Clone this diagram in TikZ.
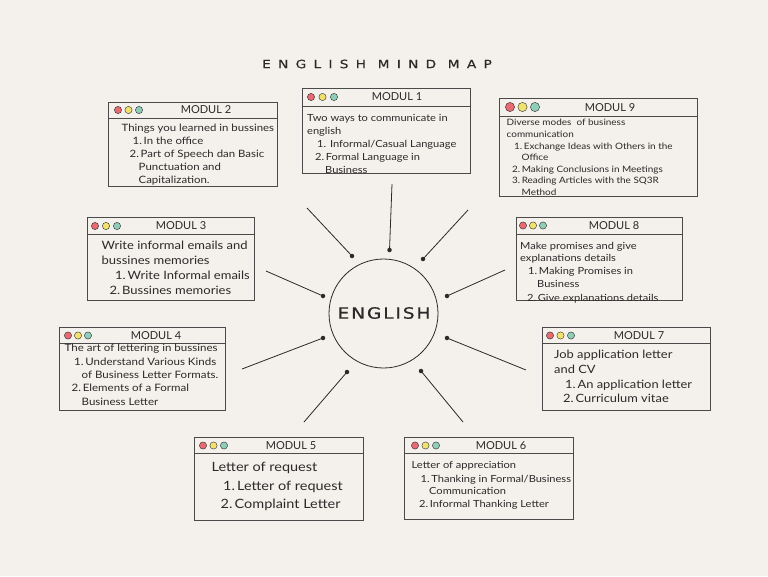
\documentclass[tikz,border=0pt]{standalone}
\usepackage{fontspec}
\setmainfont{Lato}[FakeStretch=1.13]
\newfontfamily\hdrfont{Lato}
\newfontfamily\titlefont[FakeStretch=1.2,LetterSpace=64,FakeBold=0.4]{DejaVu Sans}
\newfontfamily\centerfont[FakeStretch=1.2,LetterSpace=12,FakeBold=0.5]{DejaVu Sans}
\definecolor{bg}{HTML}{F4F0EB}
\definecolor{ink}{HTML}{2A2A2A}
\definecolor{boxline}{HTML}{4A4A4A}
\definecolor{dotred}{HTML}{E86A72}
\definecolor{dotyel}{HTML}{F1E16F}
\definecolor{dotteal}{HTML}{8ECDB8}
\newcommand{\fs}[1]{\fontsize{#1}{#1}\selectfont}
\tikzset{
  modbox/.style={draw=boxline, line width=0.9pt},
  hdrline/.style={draw=boxline, line width=0.9pt},
  wdot/.style={draw=ink, line width=0.4pt},
  ln/.style={anchor=base west, inner sep=0pt, text=ink},
  hdr/.style={inner sep=0pt, text=ink, font=\hdrfont\fs{11}},
  spoke/.style={draw=ink, line width=0.8pt},
  hub/.style={circle, fill=ink, inner sep=0pt, minimum size=4.5pt},
}
\begin{document}
\begin{tikzpicture}[x=1pt,y=-1pt]
\fill[bg] (0,0) rectangle (768,576);
\useasboundingbox (0,0) rectangle (768,576);

% title
\node[inner sep=0pt, text=ink] (title) at (377,64) {\titlefont\fontsize{11.4}{12}\selectfont ENGLISH MIND MAP};

% center
\node[circle, draw=ink, line width=0.8pt, minimum size=109pt, inner sep=0pt] (eng) at (383.5,313.5) {};
\node[inner sep=0pt, text=ink] (engt) at (384,313) {\centerfont\fontsize{15.5}{16}\selectfont ENGLISH};

\newcommand{\modbox}[6]{%
  \draw[modbox] (#2,#3) rectangle (#4,#5);
  \draw[hdrline] (#2,#6) -- (#4,#6);
  \coordinate (#1nw) at (#2,#3);
}
% ---- MODUL 1
\modbox{mA}{302}{88}{470}{173}{106}
\foreach \xx/\cc in {311/dotred,322.5/dotyel,334/dotteal}{\filldraw[wdot, fill=\cc] (\xx,97) circle (3.6);}
\node[hdr] (m1h) at (397,97) {MODUL 1};
\node[ln, font=\fs{9.8}] (m1a) at (307,121) {Two ways to communicate in};
\node[ln, font=\fs{9.8}] (m1b) at (307,134) {english};
\node[ln, font=\fs{9.8}] (m1c) at (317,147) {1. Informal/Casual Language};
\node[ln, font=\fs{9.8}] (m1d) at (315,160) {2.\,Formal Language in};
\node[ln, font=\fs{9.8}] (m1e) at (325,173) {Business};

% ---- MODUL 2
\modbox{mB}{108}{102}{277}{186}{118}
\foreach \xx/\cc in {118/dotred,128.5/dotyel,139/dotteal}{\filldraw[wdot, fill=\cc] (\xx,110) circle (3.6);}
\node[hdr] (m2h) at (206,110) {MODUL 2};
\node[ln, font=\fs{10.1}] (m2a) at (121.5,131) {Things you learned in bussines};
\node[ln, font=\fs{10.1}] (m2b) at (132.5,144.5) {1.\,In the office};
\node[ln, font=\fs{10.1}] (m2c) at (129.5,157.5) {2.\,Part of Speech dan Basic};
\node[ln, font=\fs{10.1}] (m2d) at (138.5,170.5) {Punctuation and};
\node[ln, font=\fs{10.1}] (m2e) at (138.5,183.5) {Capitalization.};

% ---- MODUL 9
\modbox{mC}{499}{98}{697}{196}{116}
\foreach \xx/\cc in {510/dotred,522.5/dotyel,535/dotteal}{\filldraw[wdot, fill=\cc] (\xx,107) circle (4.6);}
\node[hdr] (m9h) at (610,108) {MODUL 9};
\node[ln, font=\fs{8.8}] (m9a) at (506.5,125) {Diverse modes\ \ of business};
\node[ln, font=\fs{8.8}] (m9b) at (506.5,137) {communication};
\node[ln, font=\fs{8.8}] (m9c) at (514,149) {1.\,Exchange Ideas with Others in the};
\node[ln, font=\fs{8.8}] (m9d) at (521.5,160.5) {Office};
\node[ln, font=\fs{8.8}] (m9e) at (512,172) {2.\,Making Conclusions in Meetings};
\node[ln, font=\fs{8.8}] (m9f) at (512,183.5) {3.\,Reading Articles with the SQ3R};
\node[ln, font=\fs{8.8}] (m9g) at (521.5,195) {Method};

% ---- MODUL 3
\modbox{mD}{87}{217}{254}{300}{234}
\foreach \xx/\cc in {95/dotred,106/dotyel,117/dotteal}{\filldraw[wdot, fill=\cc] (\xx,226) circle (3.6);}
\node[hdr] (m3h) at (181,226) {MODUL 3};
\node[ln, font=\fs{11.5}] (m3a) at (101.5,249) {Write informal emails and};
\node[ln, font=\fs{11.5}] (m3b) at (101.5,264) {bussines memories};
\node[ln, font=\fs{11.5}] (m3c) at (115,279) {1.\,Write Informal emails};
\node[ln, font=\fs{11.5}] (m3d) at (109.5,294) {2.\,Bussines memories};

% ---- MODUL 8
\modbox{mE}{516}{217}{682}{300}{234}
\foreach \xx/\cc in {523/dotred,533/dotyel,543/dotteal}{\filldraw[wdot, fill=\cc] (\xx,225.5) circle (3.6);}
\node[hdr] (m8h) at (614,226) {MODUL 8};
\node[ln, font=\fs{9.8}] (m8a) at (520,249) {Make promises and give};
\node[ln, font=\fs{9.8}] (m8b) at (520,261.5) {explanations details};
\node[ln, font=\fs{9.8}] (m8c) at (528,274.5) {1.\,Making Promises in};
\node[ln, font=\fs{9.8}] (m8d) at (537,287.5) {Business};
\node[ln, font=\fs{9.8}] (m8e) at (527,301) {2.\,Give explanations details};

% ---- MODUL 4
\modbox{mF}{59}{327}{225}{410}{343}
\foreach \xx/\cc in {68/dotred,78/dotyel,88/dotteal}{\filldraw[wdot, fill=\cc] (\xx,335.5) circle (3.6);}
\node[hdr] (m4h) at (156,336) {MODUL 4};
\node[ln, font=\fs{10.2}] (m4a) at (64.5,351.5) {The art of lettering in bussines};
\node[ln, font=\fs{10.2}] (m4b) at (74,365) {1.\,Understand Various Kinds};
\node[ln, font=\fs{10.2}] (m4c) at (81.5,378) {of Business Letter Formats.};
\node[ln, font=\fs{10.2}] (m4d) at (71.5,391.5) {2.\,Elements of a Formal};
\node[ln, font=\fs{10.2}] (m4e) at (81.5,405) {Business Letter};

% ---- MODUL 7
\modbox{mG}{542}{327}{710}{410}{343}
\foreach \xx/\cc in {550/dotred,560.5/dotyel,571/dotteal}{\filldraw[wdot, fill=\cc] (\xx,335.5) circle (3.6);}
\node[hdr] (m7h) at (639,336) {MODUL 7};
\node[ln, font=\fs{11.4}] (m7a) at (554,358) {Job application letter};
\node[ln, font=\fs{11.4}] (m7b) at (554,373) {and CV};
\node[ln, font=\fs{11.4}] (m7c) at (565,388) {1.\,An application letter};
\node[ln, font=\fs{11.4}] (m7d) at (563,402.5) {2.\,Curriculum vitae};

% ---- MODUL 5
\modbox{mH}{194}{437}{363}{520}{453}
\foreach \xx/\cc in {203/dotred,213.5/dotyel,224/dotteal}{\filldraw[wdot, fill=\cc] (\xx,445.5) circle (3.6);}
\node[hdr] (m5h) at (291,446) {MODUL 5};
\node[ln, font=\fs{12.8}] (m5a) at (211.5,471.5) {Letter of request};
\node[ln, font=\fs{12.8}] (m5b) at (223,490) {1.\,Letter of request};
\node[ln, font=\fs{12.8}] (m5c) at (220.5,508.5) {2.\,Complaint Letter};

% ---- MODUL 6
\modbox{mI}{404}{437}{573}{519}{453}
\foreach \xx/\cc in {415/dotred,425.5/dotyel,436/dotteal}{\filldraw[wdot, fill=\cc] (\xx,445.5) circle (3.6);}
\node[hdr] (m6h) at (501,446) {MODUL 6};
\node[ln, font=\fs{9.8}] (m6a) at (411.5,468) {Letter of appreciation};
\node[ln, font=\fs{9.8}] (m6b) at (420.5,482) {1.\,Thanking in Formal/Business};
\node[ln, font=\fs{9.8}] (m6c) at (429,494) {Communication};
\node[ln, font=\fs{9.8}] (m6d) at (419,507.5) {2.\,Informal Thanking Letter};

% ---- spokes
\coordinate (s1o) at (392,184);  \node[hub] (s1i) at (389.5,250) {};
\coordinate (s2o) at (307,208);  \node[hub] (s2i) at (352,256) {};
\coordinate (s3o) at (468,210);  \node[hub] (s3i) at (423,259) {};
\coordinate (s4o) at (266,271);  \node[hub] (s4i) at (323,296) {};
\coordinate (s5o) at (505,270);  \node[hub] (s5i) at (447,296) {};
\coordinate (s6o) at (242,369);  \node[hub] (s6i) at (323,338) {};
\coordinate (s7o) at (526,370);  \node[hub] (s7i) at (447,338) {};
\coordinate (s8o) at (304,422);  \node[hub] (s8i) at (347,372) {};
\coordinate (s9o) at (463,422);  \node[hub] (s9i) at (421,371) {};
\foreach \i in {1,...,9}{\draw[spoke] (s\i o) -- (s\i i.center);}
\end{tikzpicture}
\end{document}
